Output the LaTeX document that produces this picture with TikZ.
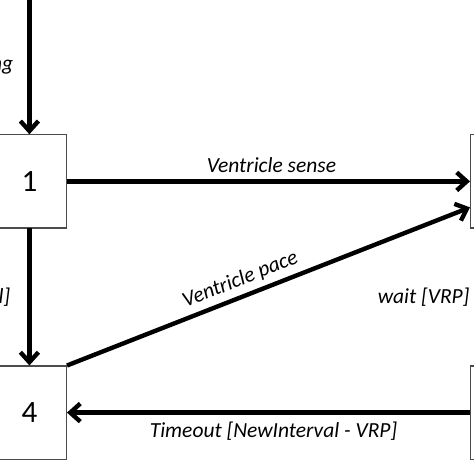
\documentclass[tikz,border=0pt]{standalone}
\usepackage{fontspec}
\setmainfont{Carlito}
\usetikzlibrary{matrix,arrows.meta}

\tikzset{
  state/.style={draw=black!70, line width=1.2pt, minimum width=74pt,
    minimum height=93pt, inner sep=0pt, anchor=center,
    font=\fontsize{31}{31}\selectfont},
  trans/.style={-{Straight Barb[length=10pt,width=18pt]}, line width=4.4pt},
  lbl/.style={font=\fontsize{21.5}{21.5}\selectfont\itshape, inner sep=2pt}
}

\begin{document}
\begin{tikzpicture}[x=1pt,y=1pt]
      \useasboundingbox (0,0) rectangle (474,474);
      \clip (0,0) rectangle (474,474);
      \matrix (m) [matrix of nodes, nodes in empty cells, row sep=137pt,
        column sep=403pt, nodes={state}] at (268.5,177) {%
            1 & \\
            4 & \\};
      \coordinate (in) at (m-1-1.north |- 0,474);
      \path[trans]
        (in) edge node[lbl, left=12pt] {ng} (m-1-1)
        (m-1-1) edge node[lbl, above=5pt, xshift=3pt] {Ventricle sense} (m-1-2)
                edge node[lbl, left=15pt] {l]} (m-2-1)
        (m-2-1.north east) edge node[lbl, pos=0.445, sloped, above=3pt] {Ventricle pace} ([yshift=-26pt]m-1-2.west)
        (m-1-2) edge node[lbl, left=34pt] {wait [VRP]} (m-2-2) % line itself lies off the page
        (m-2-2) edge node[lbl, below=5pt, xshift=5pt] {Timeout [NewInterval - VRP]} (m-2-1);
    \end{tikzpicture}
\end{document}
